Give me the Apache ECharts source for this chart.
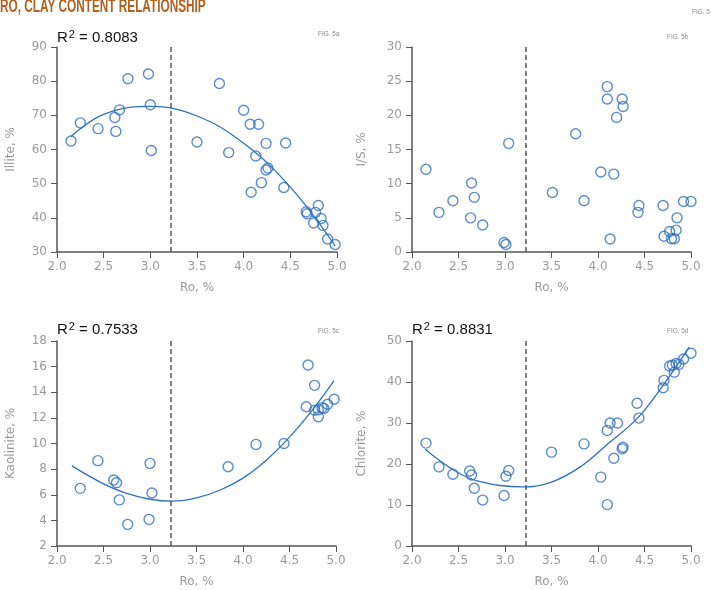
<!DOCTYPE html>
<html>
<head>
<meta charset="utf-8">
<script src="https://cdn.jsdelivr.net/npm/echarts@6/dist/echarts.min.js"></script>
<style>
html, body { margin: 0; padding: 0; background: #fff; }
#chart { width: 711px; height: 590px; }
</style>
</head>
<body>
<div id="chart"></div>
<script>
// fig 5a - illite
var illiteRo  = [2.15, 2.25, 2.44, 2.62, 2.63, 2.67, 2.76, 2.98, 3.00, 3.01, 3.50, 3.74, 3.84, 4.00, 4.07, 4.16, 4.13, 4.08, 4.19, 4.24, 4.26, 4.24, 4.45, 4.43, 4.67, 4.68, 4.75, 4.77, 4.80, 4.83, 4.85, 4.90, 4.98];
var illiteVal = [62.5, 67.8, 66.1, 69.4, 65.3, 71.6, 80.7, 82.1, 73.1, 59.7, 62.2, 79.3, 59.1, 71.5, 67.4, 67.4, 58.1, 47.5, 50.3, 54.0, 54.6, 61.8, 61.9, 48.9, 41.8, 41.2, 38.5, 41.6, 43.6, 39.8, 37.8, 33.8, 32.2];
var illiteFitRo  = [2.15, 2.5, 3.0, 3.5, 4.0, 4.5, 4.98];
var illiteFitVal = [63.8, 70.3, 72.6, 69.8, 61.8, 49.0, 31.8];

// fig 5b - I/S
var isRo  = [2.15, 2.29, 2.44, 2.64, 2.67, 2.63, 2.76, 2.99, 3.01, 3.04, 3.51, 3.76, 3.85, 4.03, 4.10, 4.10, 4.13, 4.17, 4.20, 4.26, 4.27, 4.43, 4.44, 4.70, 4.71, 4.77, 4.79, 4.84, 4.82, 4.85, 4.92, 5.00];
var isVal = [12.1, 5.8, 7.5, 10.1, 8.0, 5.0, 3.95, 1.4, 1.1, 15.9, 8.7, 17.3, 7.5, 11.7, 24.2, 22.4, 1.9, 11.4, 19.7, 22.4, 21.3, 5.8, 6.8, 6.8, 2.3, 3.0, 1.95, 3.2, 1.95, 5.0, 7.4, 7.4];

// fig 5c - kaolinite
var kaolRo  = [2.25, 2.44, 2.61, 2.64, 2.67, 2.76, 3.00, 2.99, 3.02, 3.84, 4.14, 4.44, 4.68, 4.70, 4.77, 4.77, 4.81, 4.81, 4.85, 4.87, 4.91, 4.98];
var kaolVal = [6.5, 8.66, 7.15, 6.94, 5.6, 3.69, 8.45, 4.08, 6.14, 8.19, 9.93, 10.0, 12.87, 16.13, 14.54, 12.59, 12.09, 12.64, 12.8, 12.74, 13.06, 13.45];
var kaolFitRo  = [2.16, 2.5, 2.75, 3.0, 3.25, 3.5, 3.75, 4.0, 4.25, 4.5, 4.75, 4.98];
var kaolFitVal = [8.25, 6.85, 6.1, 5.65, 5.5, 5.75, 6.35, 7.3, 8.7, 10.5, 12.65, 14.9];

// fig 5d - chlorite
var chlorRo  = [2.15, 2.29, 2.44, 2.62, 2.64, 2.67, 2.76, 2.99, 3.01, 3.04, 3.50, 3.85, 4.03, 4.10, 4.10, 4.13, 4.17, 4.21, 4.26, 4.27, 4.42, 4.44, 4.70, 4.71, 4.77, 4.80, 4.82, 4.84, 4.87, 4.92, 5.00];
var chlorVal = [25.1, 19.3, 17.5, 18.3, 17.3, 14.1, 11.2, 12.3, 17.0, 18.4, 22.9, 24.9, 16.8, 10.1, 28.2, 30.0, 21.4, 30.0, 23.7, 24.1, 34.8, 31.2, 38.6, 40.4, 43.9, 44.1, 42.4, 44.5, 44.3, 45.6, 47.0];
var chlorFitRo  = [2.14, 2.45, 2.7, 3.2, 3.5, 3.81, 4.09, 4.43, 4.7, 4.98];
var chlorFitVal = [23.6, 18.5, 15.9, 14.4, 15.6, 19.3, 24.6, 31.3, 39.2, 48.5];

var roTicks = [2.0, 2.5, 3.0, 3.5, 4.0, 4.5, 5.0];
var cutoffRo = 3.22;

var blue = '#2f6fbf';
var axisGrey = '#555';
var labelGrey = '#9a9a9a';

function zip(xs, ys) {
  return xs.map(function (x, i) { return [x, ys[i]]; });
}

function xAxis(g) {
  return {
    type: 'value', gridIndex: g,
    min: roTicks[0], max: roTicks[roTicks.length - 1], interval: 0.5,
    name: 'Ro, %', nameLocation: 'middle', nameGap: 30,
    nameTextStyle: { color: labelGrey, fontSize: 12, fontFamily: 'DejaVu Sans' },
    axisLine: { show: true, lineStyle: { color: axisGrey, width: 1.5 } },
    axisTick: { show: true, length: 6, lineStyle: { color: axisGrey } },
    axisLabel: { color: labelGrey, fontSize: 12, margin: 9, fontFamily: 'DejaVu Sans',
      formatter: function (v) { return v.toFixed(1); } },
    splitLine: { show: false }
  };
}

function yAxis(g, min, max, step, name, gap) {
  return {
    type: 'value', gridIndex: g, min: min, max: max, interval: step,
    name: name, nameLocation: 'middle', nameGap: gap,
    nameTextStyle: { color: labelGrey, fontSize: 12, fontFamily: 'DejaVu Sans' },
    axisLine: { show: true, lineStyle: { color: axisGrey, width: 1.5 } },
    axisTick: { show: true, length: 6, lineStyle: { color: axisGrey } },
    axisLabel: { color: labelGrey, fontSize: 12, margin: 10, fontFamily: 'DejaVu Sans' },
    splitLine: { show: false }
  };
}

function dots(g, xs, ys, extra) {
  var s = {
    type: 'scatter', xAxisIndex: g, yAxisIndex: g,
    data: zip(xs, ys), symbol: 'circle', symbolSize: 10,
    itemStyle: { color: 'rgba(255,255,255,0)', borderColor: blue, borderWidth: 1.4 },
    z: 3
  };
  if (extra) s.markLine = extra;
  return s;
}

var cutoff = {
  silent: true, symbol: ['none', 'none'], label: { show: false },
  lineStyle: { color: axisGrey, type: [5, 3], width: 1.5 },
  data: [{ xAxis: cutoffRo }]
};

function fit(g, xs, ys) {
  return {
    type: 'line', xAxisIndex: g, yAxisIndex: g,
    data: zip(xs, ys), smooth: 0.4, showSymbol: false,
    lineStyle: { color: blue, width: 1.3 },
    markLine: cutoff, z: 2
  };
}

function rsq(x, y, val) {
  return {
    type: 'text', left: x, top: y,
    style: {
      text: 'R{s|2} = ' + val,
      font: '15px "Liberation Sans"', fill: '#111',
      rich: { s: { fontSize: 11, verticalAlign: 'top', padding: [0, 0, 6, 1], fontFamily: 'Liberation Sans' } }
    }
  };
}

function figLabel(x, y, t) {
  return { type: 'text', left: x, top: y, scaleX: 0.8,
    style: { text: t, font: '8px "Liberation Sans"', fill: '#888' } };
}

var chart = echarts.init(document.getElementById('chart'), null, { renderer: 'canvas' });

chart.setOption({
  animation: false,
  backgroundColor: '#fff',
  grid: [
    { left: 57, top: 47, width: 280, height: 205 },
    { left: 412, top: 47, width: 279, height: 205 },
    { left: 57, top: 341, width: 279, height: 205 },
    { left: 412, top: 341, width: 279, height: 205 }
  ],
  xAxis: [xAxis(0), xAxis(1), xAxis(2), xAxis(3)],
  yAxis: [
    yAxis(0, 30, 90, 10, 'Illite, %', 40),
    yAxis(1, 0, 30, 5, 'I/S, %', 44),
    yAxis(2, 2, 18, 2, 'Kaolinite, %', 40),
    yAxis(3, 0, 50, 10, 'Chlorite, %', 44)
  ],
  series: [
    fit(0, illiteFitRo, illiteFitVal),
    dots(0, illiteRo, illiteVal),
    dots(1, isRo, isVal, cutoff),
    fit(2, kaolFitRo, kaolFitVal),
    dots(2, kaolRo, kaolVal),
    fit(3, chlorFitRo, chlorFitVal),
    dots(3, chlorRo, chlorVal)
  ],
  graphic: [
    { type: 'text', left: 0, top: -2, scaleX: 0.655,
      style: { text: 'RO, CLAY CONTENT RELATIONSHIP', font: 'bold 18px "Liberation Sans"', fill: '#b5601c' } },
    figLabel(692, 8, 'FIG. 5'),
    figLabel(318, 30, 'FIG. 5a'),
    figLabel(667, 33, 'FIG. 5b'),
    figLabel(318, 327, 'FIG. 5c'),
    figLabel(667, 327, 'FIG. 5d'),
    rsq(57, 29, '0.8083'),
    rsq(57, 321, '0.7533'),
    rsq(412, 321, '0.8831')
  ]
});
</script>
</body>
</html>
